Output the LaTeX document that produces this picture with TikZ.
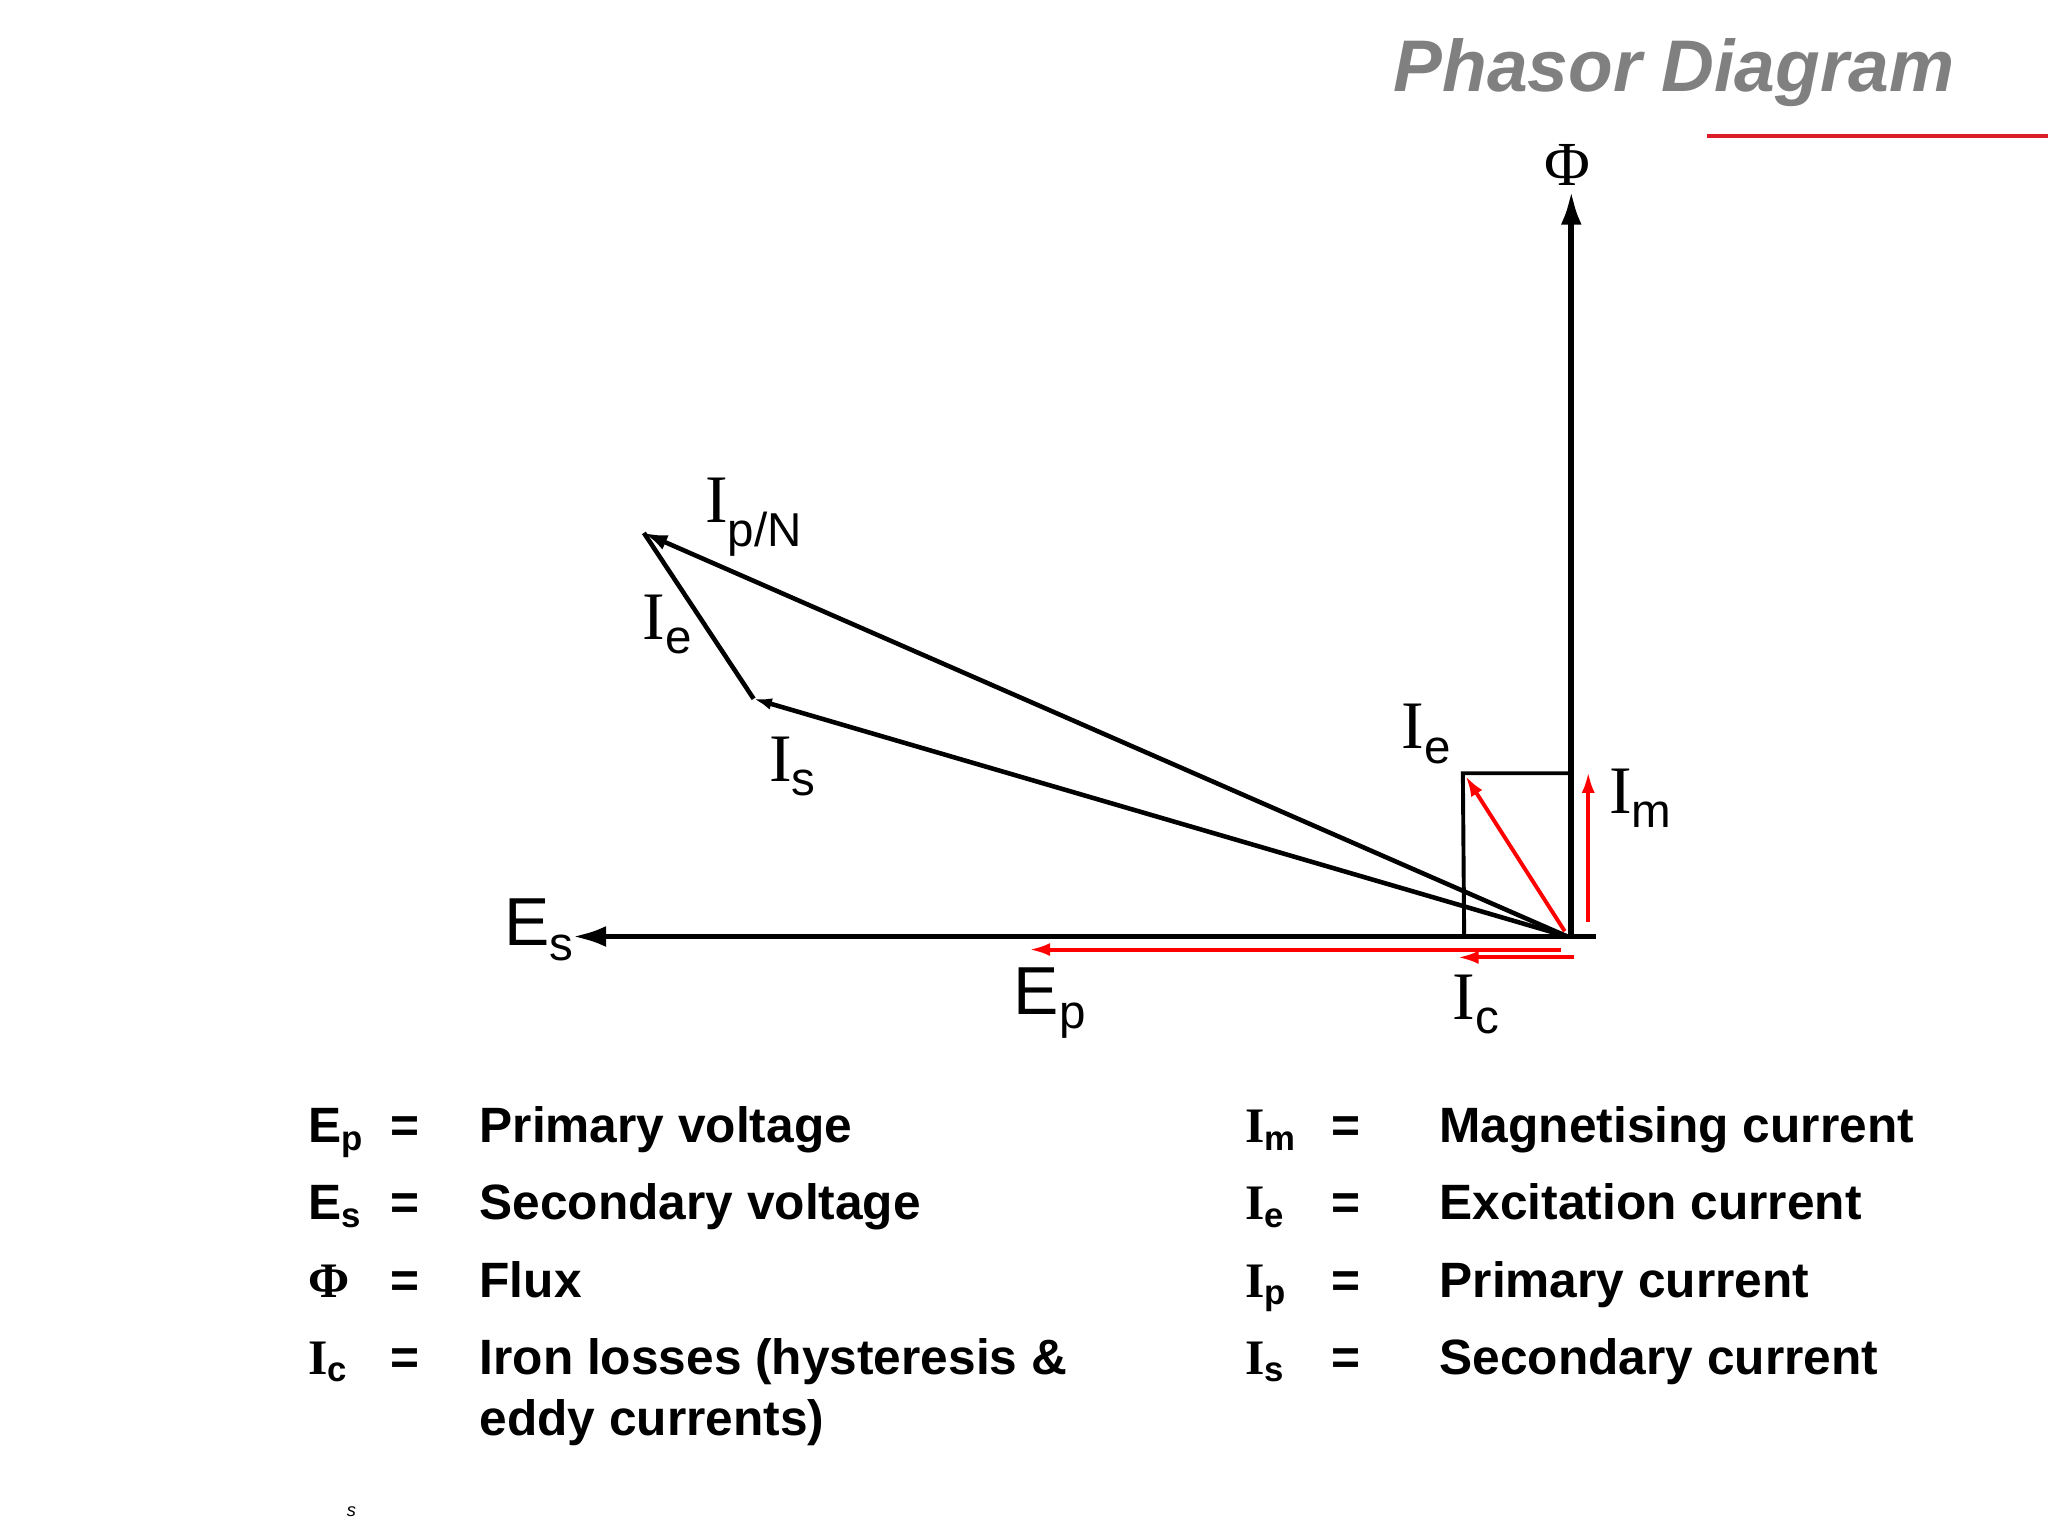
\documentclass[tikz,border=0pt]{standalone}
\usepackage{fontspec}
\setmainfont{Liberation Sans}
\newfontfamily\serf{Liberation Serif}
\usetikzlibrary{arrows.meta}
\definecolor{ttl}{RGB}{128,128,128}
\definecolor{rd}{RGB}{220,30,40}
\begin{document}
\begin{tikzpicture}[x=1pt,y=-1pt,
  blk/.style={line width=4.5pt,-{Latex[length=26pt,width=16pt]}},
  thin/.style={line width=3.5pt},
  red/.style={draw=red,line width=3pt,-{Latex[length=16pt,width=10pt]}},
  lbl/.style={font=\fontsize{52}{56}\selectfont,inner sep=0},
  leg/.style={font=\fontsize{38}{42}\selectfont\bfseries,anchor=base west,inner sep=0}]
\useasboundingbox (0,0) rectangle (1568,1176);
\node[font=\fontsize{56}{60}\selectfont\bfseries\itshape,text=ttl,anchor=base east] (title) at (1500,70) {Phasor Diagram};
\draw[rd,line width=3pt] (1307,104) coordinate (r1) -- (1568,104) coordinate (r2);
\coordinate (O) at (1200,717);
\coordinate (phi) at (1203,146);
\coordinate (es) at (438,717);
\coordinate (ip) at (493,408);
\coordinate (is) at (577,535);
\coordinate (rt) at (1222,717);
\draw[blk] (1203,717) -- (phi);
\draw[blk] (rt) -- (es);
\draw[thin,-{Latex[length=18pt,width=12pt]}] (O) -- (ip);
\draw[thin,-{Latex[length=14pt,width=9pt]}] (O) -- (is);
\draw[thin] (is) -- (ip);
\draw[line width=3pt] (1121,717) -- (1120,592) -- (1203,592);
\draw[red] (1198,713) -- (1122,594);
\draw[red] (1216,706) -- (1216,591);
\draw[red] (1195,727) -- (788,727);
\draw[red] (1205,733) -- (1116,733);
\node[lbl,font=\fontsize{48}{50}\selectfont\serf] (lphi) at (1200,126) {Φ};
\node[lbl] (les) at (413,712) {E\textsubscript{s}};
\node[lbl] (lep) at (804,768) {E\textsubscript{p}};
\node[lbl] (lic) at (1130,769) {{\serf I}\textsubscript{c}};
\node[lbl] (lim) at (1256,611) {{\serf I}\textsubscript{m}};
\node[lbl] (lie1) at (1092,562) {{\serf I}\textsubscript{e}};
\node[lbl] (lie2) at (511,478) {{\serf I}\textsubscript{e}};
\node[lbl] (lis) at (607,587) {{\serf I}\textsubscript{s}};
\node[lbl] (lip) at (577,396) {{\serf I}\textsubscript{p/N}};
% legend
\node[leg] at (236,875) {E\textsubscript{p}};
\node[leg] at (236,934) {E\textsubscript{s}};
\node[leg] at (236,993) {\serf Φ};
\node[leg] at (236,1052) {{\serf I}\textsubscript{c}};
\foreach \y in {875,934,993,1052} {\node[leg] at (299,\y) {=}; \node[leg] at (1019,\y) {=};}
\node[leg] at (367,875) {Primary voltage};
\node[leg] at (367,934) {Secondary voltage};
\node[leg] at (367,993) {Flux};
\node[leg] at (367,1052) {Iron losses (hysteresis \&};
\node[leg] at (367,1099) {eddy currents)};
\node[leg] at (953,875) {{\serf I}\textsubscript{m}};
\node[leg] at (953,934) {{\serf I}\textsubscript{e}};
\node[leg] at (953,993) {{\serf I}\textsubscript{p}};
\node[leg] at (953,1052) {{\serf I}\textsubscript{s}};
\node[leg] at (1102,875) {Magnetising current};
\node[leg] at (1102,934) {Excitation current};
\node[leg] at (1102,993) {Primary current};
\node[leg] at (1102,1052) {Secondary current};
\node[font=\fontsize{14}{16}\selectfont\itshape] (sm) at (269,1157) {s};
\end{tikzpicture}
\end{document}
